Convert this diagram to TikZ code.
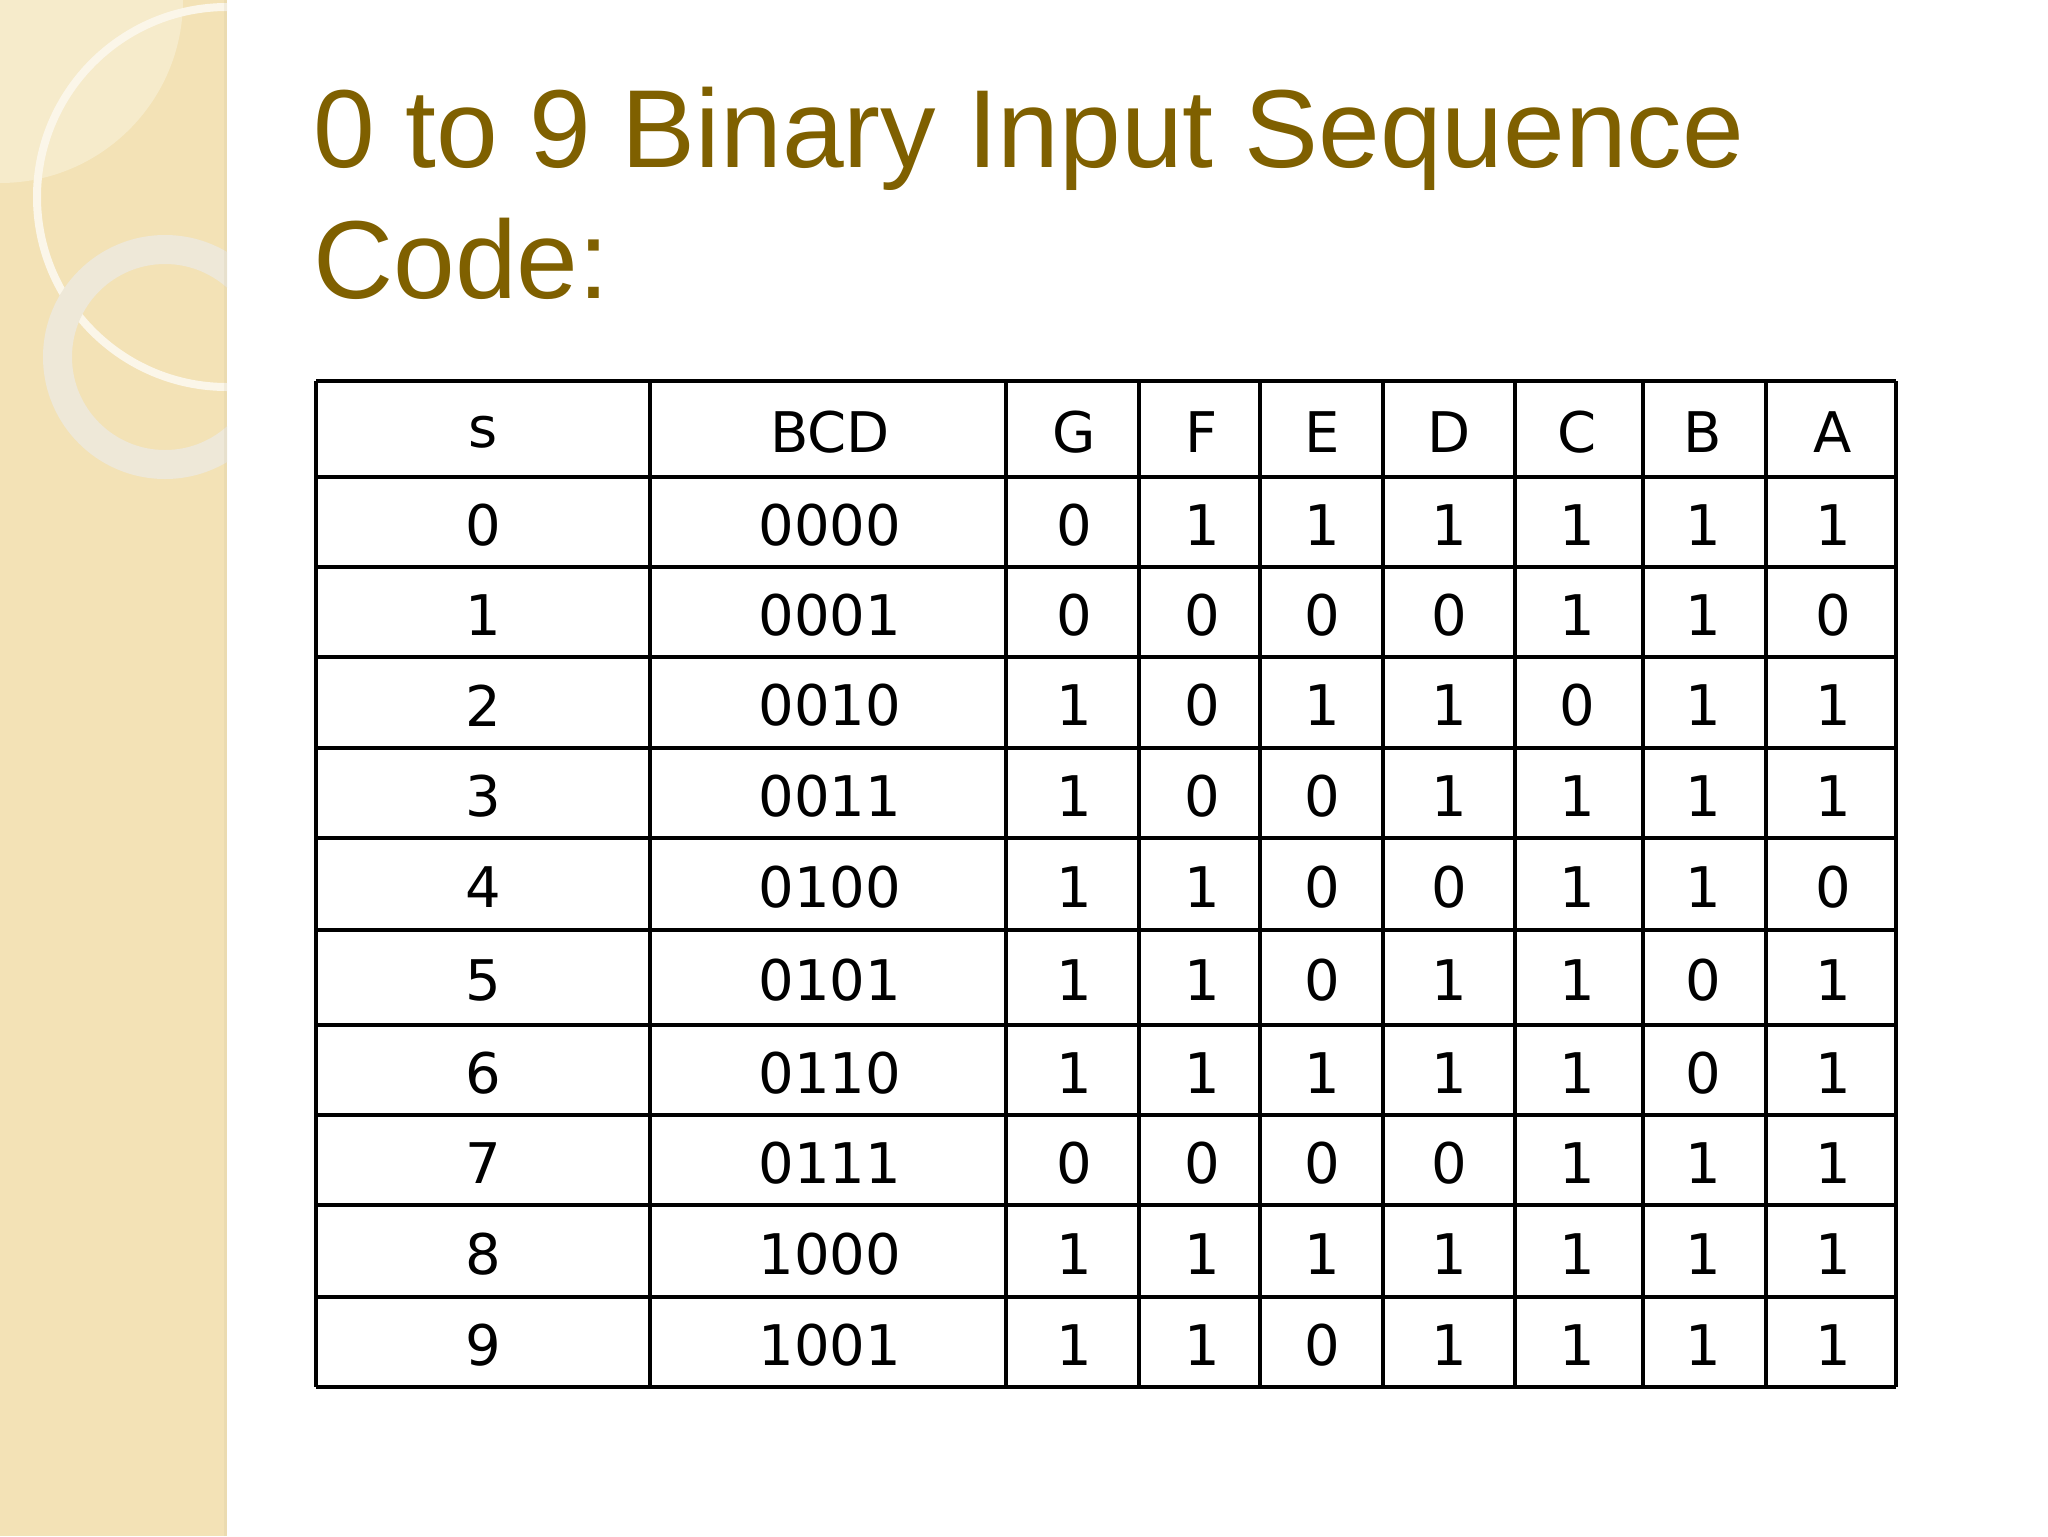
\documentclass[tikz,border=0pt]{standalone}
\usepackage{fontspec}
\setmainfont{Liberation Sans}
\newfontfamily\tabfont{DejaVu Sans}
\definecolor{titlec}{HTML}{7F6000}
\definecolor{stripc}{HTML}{F3E2B6}
\definecolor{lightc}{HTML}{F6EBCB}
\definecolor{ringc}{HTML}{EEE8D8}
\begin{document}
\begin{tikzpicture}[x=0.375pt,y=-0.375pt,
  cell/.style={font=\tabfont\fontsize{21}{24}\selectfont,inner sep=0pt,anchor=center},
  grid/.style={line width=1.5pt,black,line cap=square}]
\useasboundingbox (0,0) rectangle (2048,1536);
\fill[white] (0,0) rectangle (2048,1536);
% left strip
\begin{scope}
\clip (0,0) rectangle (227,1536);
\fill[stripc] (0,0) rectangle (227,1536);
\fill[lightc] (0,0) -- (183,0) arc[start angle=0,end angle=-90,x radius=183,y radius=-183] -- cycle;
\draw[line width=3pt,white!70!stripc] (227,197) circle[radius=190];
\fill[ringc,even odd rule] (165,357) circle[radius=122] (165,357) circle[radius=93];
\end{scope}
\fill[stripc!80!black,opacity=0.15] (224,0) rectangle (227,1536);
% title
\node[anchor=base west,inner sep=0pt,text=titlec,font=\fontsize{41.6}{50}\selectfont] (t1) at (313,167) {0 to 9 Binary Input Sequence};
\node[anchor=base west,inner sep=0pt,text=titlec,font=\fontsize{41.6}{50}\selectfont] (t2) at (313,298) {Code:};
% table grid
\def\xs{316,650,1006,1139,1260,1383,1515,1643,1766,1896}
\def\ys{381,477,567,657,748,838,930,1025,1115,1205,1297,1387}
\foreach \x in \xs {\draw[grid] (\x,381) -- (\x,1387);}
\foreach \y in \ys {\draw[grid] (316,\y) -- (1896,\y);}
% cells
\def\cx{483,830,1074,1202,1322,1449,1577,1703,1833}
\foreach \row [count=\r] in {
 {s,BCD,G,F,E,D,C,B,A},
 {0,0000,0,1,1,1,1,1,1},
 {1,0001,0,0,0,0,1,1,0},
 {2,0010,1,0,1,1,0,1,1},
 {3,0011,1,0,0,1,1,1,1},
 {4,0100,1,1,0,0,1,1,0},
 {5,0101,1,1,0,1,1,0,1},
 {6,0110,1,1,1,1,1,0,1},
 {7,0111,0,0,0,0,1,1,1},
 {8,1000,1,1,1,1,1,1,1},
 {9,1001,1,1,0,1,1,1,1}} {
  \pgfmathsetmacro{\yt}{{\ys}[\r-1]}
  \pgfmathsetmacro{\yb}{{\ys}[\r]}
  \pgfmathsetmacro{\yc}{(\yt+\yb)/2+3}
  \foreach \v [count=\c] in \row {
    \pgfmathsetmacro{\xc}{{\cx}[\c-1]}
    \node[cell] (c-\r-\c) at (\xc,\yc) {\v};
  }
}
\end{tikzpicture}
\end{document}
